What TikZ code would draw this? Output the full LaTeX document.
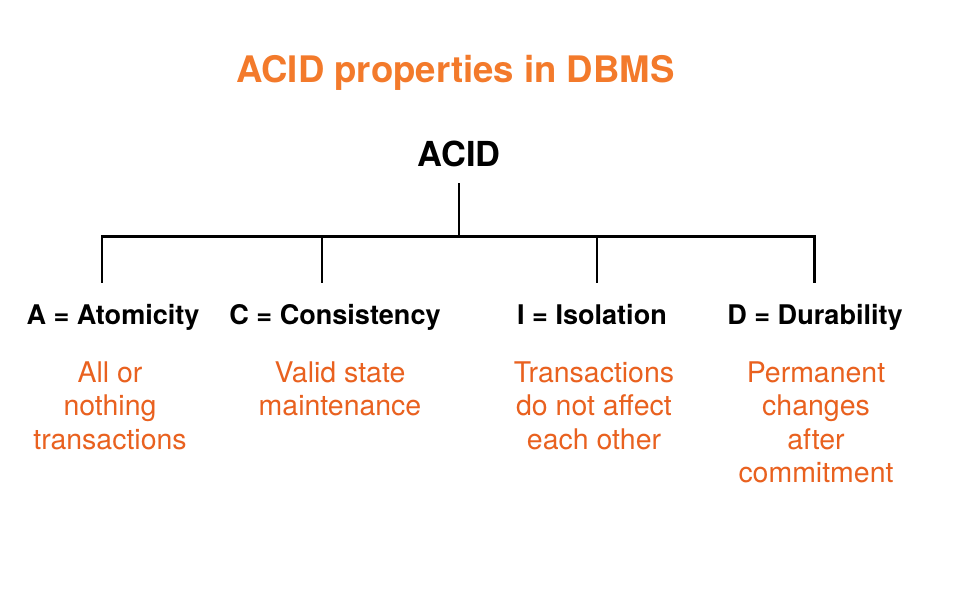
\documentclass[tikz,border=0pt]{standalone}
\usepackage{fontspec}
\setmainfont{TeX Gyre Heros}
\usepackage{xcolor}
\usetikzlibrary{positioning}

\definecolor{titleorange}{HTML}{F37A2B}
\definecolor{descorange}{HTML}{E9611F}

\tikzset{
    tree/.style={draw=black, line width=0.85pt},
    heading/.style={font=\bfseries\fontsize{10.4}{12}\selectfont, text=titleorange, anchor=base},
    root/.style={font=\bfseries\fontsize{9.8}{11}\selectfont, anchor=base, inner sep=0pt, outer sep=4.5pt},
    prop/.style={font=\bfseries\fontsize{7.7}{9}\selectfont, anchor=base, inner sep=0pt},
    desc/.style={font=\fontsize{8.1}{9.53}\selectfont, text=descorange, align=center, anchor=north, inner sep=0pt}
}

\begin{document}
\begin{tikzpicture}
        \fill[white] (0,0) rectangle (9.61,5.90);
        \useasboundingbox (0,0) rectangle (9.61,5.90);

        \node[heading] (title) at (4.555,5.07) {ACID properties in DBMS};

        \node[root] (acid) at (4.59,4.23) {ACID};

        \node[prop] (atom) at (1.13,2.65) {A = Atomicity};
        \node[prop] (cons) at (3.35,2.65) {C = Consistency};
        \node[prop] (isol) at (5.92,2.65) {I = Isolation};
        \node[prop] (dura) at (8.15,2.65) {D = Durability};

        \node[desc] (atomtxt) at (1.10,2.29) {All or\\nothing\\transactions};
        \node[desc] (constxt) at (3.40,2.29) {Valid state\\maintenance};
        \node[desc] (isoltxt) at (5.94,2.29) {Transactions\\do not affect\\each other};
        \node[desc] (duratxt) at (8.16,2.29) {Permanent\\changes\\after\\commitment};

        % tree
        \coordinate (bar) at (4.59,3.53);
        \coordinate (a0) at (1.02,3.07);
        \coordinate (c0) at (3.22,3.07);
        \coordinate (i0) at (5.97,3.07);
        \coordinate (d0) at (8.14,3.07);

        \draw[tree] (acid) -- (bar);
        \draw[tree] (a0) |- (bar) -| (d0);
        \draw[tree] (c0) -- (c0 |- bar);
        \draw[tree] (i0) -- (i0 |- bar);
\end{tikzpicture}
\end{document}
